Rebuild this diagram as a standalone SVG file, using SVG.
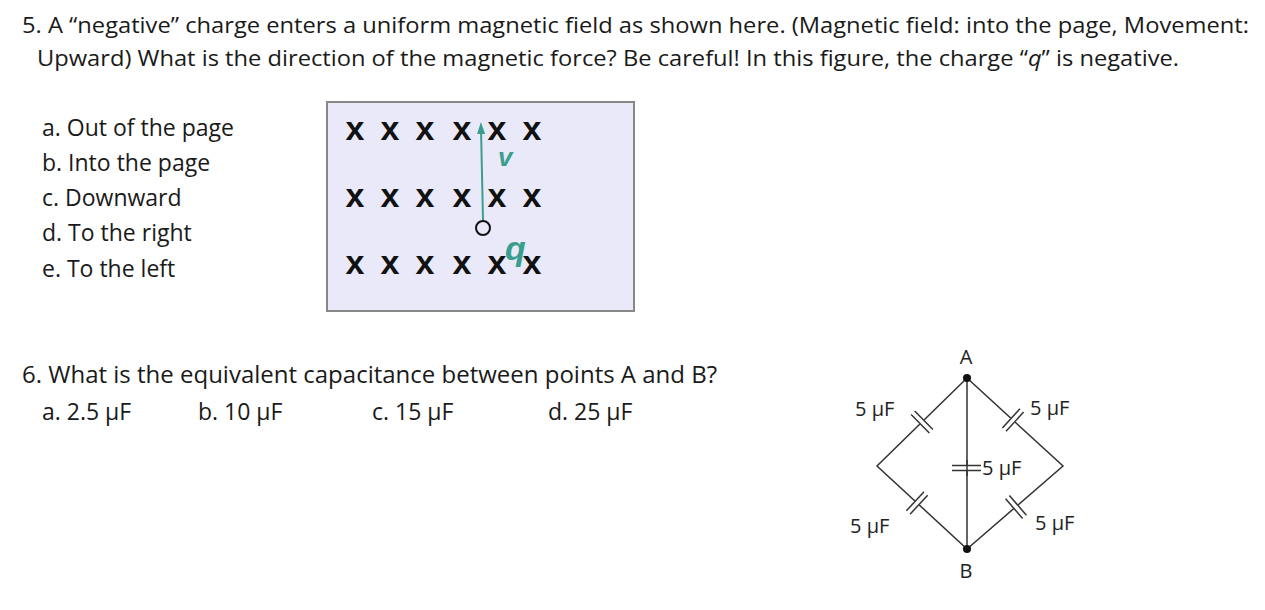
<svg xmlns="http://www.w3.org/2000/svg" width="1265" height="610" viewBox="0 0 1265 610">
<style>
.t{font-family:"Open Sans","Liberation Sans",sans-serif;font-size:22px;fill:#1a1a1a}
.q6{font-size:24px}
.o{font-family:"Open Sans","Liberation Sans",sans-serif;font-size:23px;fill:#1a1a1a}
.x{font-family:"Liberation Sans",sans-serif;font-size:34px;font-weight:bold;fill:#111;text-anchor:middle}
.c{font-family:"Open Sans","Liberation Sans",sans-serif;font-size:20px;fill:#222}
.w{stroke:#333;stroke-width:1.5;fill:none}
.g{font-family:"Liberation Sans",sans-serif;font-weight:bold;font-style:italic;fill:#3a9e8e}
.gv{font-size:26px}
.gq{font-size:34px}
</style>
<defs>
<marker id="ar" markerWidth="6" markerHeight="6" refX="3" refY="3" orient="auto"><path d="M0,1 L6,3 L0,5 Z" fill="#3a9e8e"/></marker>
<g id="cap"><rect x="-3" y="-15" width="6" height="30" fill="#fff"/><line x1="-2.5" y1="-13" x2="-2.5" y2="13" stroke="#333" stroke-width="1.5"/><line x1="2.5" y1="-13" x2="2.5" y2="13" stroke="#333" stroke-width="1.5"/></g>
</defs>
<rect width="1265" height="610" fill="#fff"/>
<text class="t" x="22" y="33" textLength="1227" lengthAdjust="spacingAndGlyphs">5. A “negative” charge enters a uniform magnetic field as shown here. (Magnetic field: into the page, Movement:</text>
<text class="t" x="37" y="66" textLength="1142" lengthAdjust="spacingAndGlyphs">Upward) What is the direction of the magnetic force? Be careful! In this figure, the charge “<tspan font-style="italic">q</tspan>” is negative.</text>
<g id="options5">
<text class="o" x="42" y="136">a. Out of the page</text>
<text class="o" x="42" y="171">b. Into the page</text>
<text class="o" x="42" y="206">c. Downward</text>
<text class="o" x="42" y="241">d. To the right</text>
<text class="o" x="42" y="277">e. To the left</text>
</g>
<g id="field">
<rect x="327" y="102" width="307" height="209" fill="#e9e9f9" stroke="#888" stroke-width="2"/>
<g class="x">
<text x="355" y="140">x</text><text x="390" y="140">x</text><text x="425" y="140">x</text><text x="462" y="140">x</text><text x="497" y="140">x</text><text x="532" y="140">x</text>
<text x="355" y="207">x</text><text x="390" y="207">x</text><text x="425" y="207">x</text><text x="462" y="207">x</text><text x="497" y="207">x</text><text x="532" y="207">x</text>
<text x="355" y="274">x</text><text x="390" y="274">x</text><text x="425" y="274">x</text><text x="462" y="274">x</text><text x="497" y="274">x</text><text x="532" y="274">x</text>
</g>
<line x1="483" y1="220" x2="481" y2="128" stroke="#3a9e8e" stroke-width="2" marker-end="url(#ar)"/>
<circle cx="483" cy="228" r="7" fill="none" stroke="#111" stroke-width="2"/>
<text class="g gv" x="498" y="166">v</text>
<text class="g gq" x="505" y="260">q</text>
</g>
<text class="t q6" x="22" y="383">6. What is the equivalent capacitance between points A and B?</text>
<g id="options6">
<text class="o" x="42" y="420">a. 2.5 μF</text>
<text class="o" x="198" y="420">b. 10 μF</text>
<text class="o" x="372" y="420">c. 15 μF</text>
<text class="o" x="548" y="420">d. 25 μF</text>
</g>
<g id="connectors">
<path class="w" d="M967,378 L877,466 L967,549 L1063,466 Z M967,378 L967,549"/>
</g>
<g id="caps">
<use href="#cap" transform="translate(922,422) rotate(135.6)"/>
<use href="#cap" transform="translate(917,503) rotate(42.7)"/>
<use href="#cap" transform="translate(1013,420) rotate(42.5)"/>
<use href="#cap" transform="translate(1016,507) rotate(139)"/>
<g id="cmid"><rect x="952" y="465" width="30" height="6" fill="#fff"/><line x1="952" y1="465.5" x2="981" y2="465.5" stroke="#333" stroke-width="1.5"/><line x1="952" y1="470.5" x2="981" y2="470.5" stroke="#333" stroke-width="1.5"/><line x1="967" y1="460" x2="967" y2="476" class="w"/></g>
</g>
<g id="nodeA"><circle cx="967" cy="378" r="4" fill="#111"/><text class="c" x="966" y="364" text-anchor="middle">A</text></g>
<g id="nodeB"><circle cx="967" cy="549" r="4" fill="#111"/><text class="c" x="966" y="578" text-anchor="middle">B</text></g>
<g id="labels">
<text class="c" x="855" y="416">5 μF</text>
<text class="c" x="1030" y="415">5 μF</text>
<text class="c" x="982" y="475">5 μF</text>
<text class="c" x="850" y="533">5 μF</text>
<text class="c" x="1035" y="530">5 μF</text>
</g>
</svg>
